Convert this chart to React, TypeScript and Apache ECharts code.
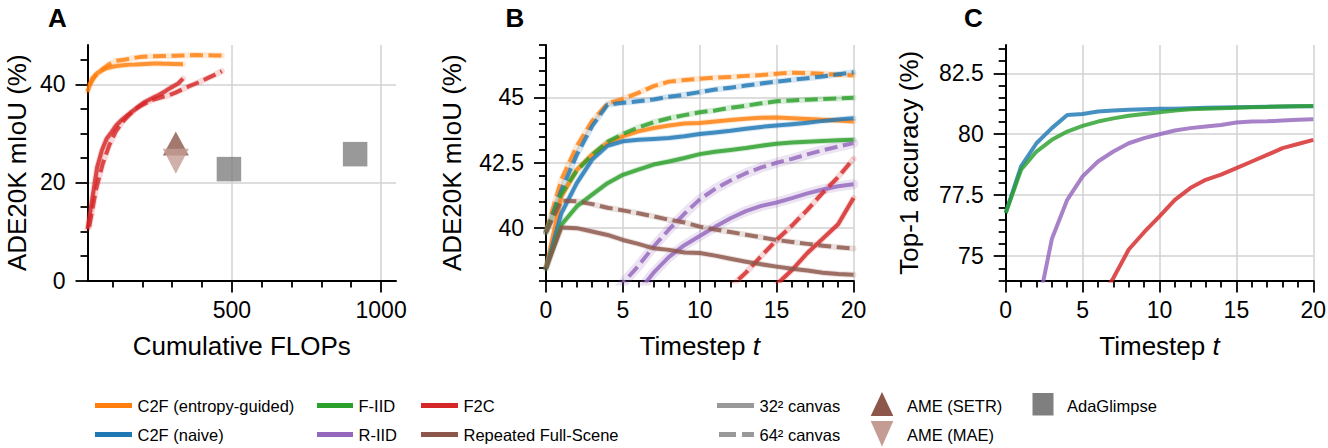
import React, { useEffect, useRef } from "react";
import * as echarts from "echarts";

const FONT = "'Liberation Sans', Arial, Helvetica, sans-serif";

// ---------- data ----------
const timesteps = [0, 1, 2, 3, 4, 5, 6, 7, 8, 9, 10, 11, 12, 13, 14, 15, 16, 17, 18, 19, 20];
// cumulative FLOPs per timestep (panel A)
const flops32 = [16, 32, 48, 64, 80, 96, 112, 128, 144, 160, 176, 192, 208, 224, 240, 256, 272, 288, 304, 320, 336];
const flops64 = [22, 44, 67, 89, 111, 133, 155, 178, 200, 222, 244, 266, 289, 311, 333, 355, 377, 400, 422, 444, 466];

// ADE20K mIoU, 32^2 canvas
const c2fEntropy32 = [38.47, 41.21, 42.23, 42.81, 43.26, 43.51, 43.7, 43.83, 43.92, 44.0, 44.02, 44.08, 44.13, 44.18, 44.22, 44.23, 44.2, 44.17, 44.14, 44.11, 44.08];
const c2fNaive32 = [38.47, 40.57, 41.72, 42.62, 43.15, 43.32, 43.38, 43.41, 43.45, 43.51, 43.6, 43.66, 43.72, 43.8, 43.87, 43.92, 43.97, 44.03, 44.1, 44.15, 44.2];
const fiid32 = [38.47, 40.13, 40.83, 41.28, 41.72, 42.04, 42.24, 42.43, 42.55, 42.68, 42.83, 42.92, 42.99, 43.06, 43.15, 43.23, 43.27, 43.3, 43.33, 43.36, 43.38];
const riid32 = [null, null, null, null, null, 36.6, 37.57, 38.3, 38.9, 39.35, 39.7, 40.05, 40.38, 40.65, 40.85, 40.98, 41.15, 41.33, 41.48, 41.6, 41.68];
const f2c32 = [10.5, 16.7, 23.0, 26.5, 28.9, 30.2, 31.6, 32.6, 33.4, 34.2, 34.9, 35.7, 36.4, 36.9, 37.4, 37.85, 38.4, 39.05, 39.6, 40.15, 41.15];
const repeated32 = [38.47, 40.03, 40.0, 39.87, 39.74, 39.55, 39.4, 39.23, 39.17, 39.07, 39.05, 38.95, 38.83, 38.72, 38.62, 38.53, 38.45, 38.38, 38.3, 38.25, 38.22];

// ADE20K mIoU, 64^2 canvas
const c2fEntropy64 = [39.85, 41.85, 43.13, 44.09, 44.76, 44.94, 45.17, 45.43, 45.6, 45.66, 45.71, 45.75, 45.78, 45.82, 45.85, 45.9, 45.94, 45.93, 45.9, 45.86, 45.84];
const c2fNaive64 = [39.85, 41.45, 42.8, 43.9, 44.72, 44.79, 44.85, 44.92, 45.02, 45.1, 45.2, 45.3, 45.37, 45.45, 45.53, 45.6, 45.67, 45.73, 45.8, 45.88, 45.96];
const fiid64 = [39.85, 41.3, 42.2, 42.8, 43.3, 43.6, 43.85, 44.05, 44.2, 44.32, 44.43, 44.5, 44.6, 44.68, 44.77, 44.85, 44.88, 44.91, 44.94, 44.96, 44.98];
const riid64 = [null, null, null, null, 37.0, 37.9, 38.55, 39.3, 39.95, 40.55, 41.1, 41.5, 41.82, 42.1, 42.32, 42.5, 42.65, 42.82, 42.98, 43.12, 43.25];
const f2c64 = [11.0, 18.4, 23.8, 27.6, 30.4, 32.3, 33.7, 35.0, 35.8, 36.5, 37.0, 37.4, 37.75, 38.3, 38.93, 39.55, 40.1, 40.7, 41.35, 41.95, 42.65];
const repeated64 = [39.85, 41.05, 41.03, 40.92, 40.78, 40.68, 40.57, 40.45, 40.32, 40.22, 40.06, 39.95, 39.85, 39.75, 39.65, 39.55, 39.47, 39.4, 39.33, 39.27, 39.22];

// Top-1 accuracy (panel C)
const c2fNaiveTop1 = [76.77, 78.68, 79.63, 80.25, 80.79, 80.83, 80.93, 80.97, 81.0, 81.02, 81.04, 81.05, 81.07, 81.09, 81.1, 81.11, 81.12, 81.13, 81.14, 81.15, 81.15];
const fiidTop1 = [76.77, 78.54, 79.29, 79.77, 80.11, 80.34, 80.52, 80.65, 80.76, 80.83, 80.9, 80.97, 81.02, 81.05, 81.07, 81.09, 81.11, 81.12, 81.14, 81.15, 81.16];
const riidTop1 = [null, null, 72.6, 75.7, 77.31, 78.27, 78.88, 79.29, 79.63, 79.84, 80.0, 80.15, 80.25, 80.32, 80.38, 80.48, 80.52, 80.53, 80.56, 80.59, 80.61];
const f2cTop1 = [null, null, null, null, null, null, 73.1, 74.1, 75.27, 75.98, 76.63, 77.31, 77.79, 78.13, 78.34, 78.61, 78.88, 79.15, 79.43, 79.6, 79.77];

// single-point baselines (panel A): [cumulative FLOPs, mIoU]
const ameSetr = [[312, 27.9]];
const ameMae = [[312, 24.3]];
const adaGlimpse = [[490, 22.7], [913, 25.75]];

// ticks
const aXMajor = [500, 1000];
const aXMinor = [100, 200, 300, 400, 600, 700, 800, 900];
const aYMajor = [0, 20, 40];
const aYMinor = [5, 10, 15, 25, 30, 35, 45];
const tMajor = [0, 5, 10, 15, 20];
const tMinor = [1, 2, 3, 4, 6, 7, 8, 9, 11, 12, 13, 14, 16, 17, 18, 19];
const bYMajor = [40, 42.5, 45];
const bYMinor = [38, 38.5, 39, 39.5, 40.5, 41, 41.5, 42, 43, 43.5, 44, 44.5, 45.5, 46, 46.5, 47];
const cYMajor = [75, 77.5, 80, 82.5];
const cYMinor = [74, 74.5, 75.5, 76, 76.5, 77, 78, 78.5, 79, 79.5, 80.5, 81, 81.5, 82, 83, 83.5];

// ---------- colours ----------
const ORANGE = "#ff7f0e";
const BLUE = "#1f77b4";
const GREEN = "#2ca02c";
const RED = "#d62728";
const PURPLE = "#9467bd";
const BROWN = "#8c564b";
const LBROWN = "#c49c94";
const GRAY = "#7f7f7f";

const pairs = (xs: number[], ys: (number | null)[]) => xs.map((x, i) => [x, ys[i]]);

function lineSeries(name: string, xs: number[], ys: (number | null)[], color: string, dashed: boolean, ai: number, band: number) {
  const data = pairs(xs, ys);
  const out: any[] = [];
  if (band > 0) {
    out.push({
      type: "line", name: name + " CI", xAxisIndex: ai, yAxisIndex: ai, data,
      symbol: "none", silent: true, z: 1,
      lineStyle: { color, width: band, opacity: 0.18, cap: "round", join: "round" },
    });
  }
  out.push({
    type: "line", name, xAxisIndex: ai, yAxisIndex: ai, data,
    symbol: "none", z: 2,
    lineStyle: { color, width: 4, opacity: 0.82, type: dashed ? [13, 5.5] : "solid", join: "round" },
  });
  return out;
}

function axisPair(dim: "x" | "y", grid: number, min: number, max: number, majors: number[], minors: number[], name: string, nameGap: number, margin: number) {
  const common: any = { type: "value", gridIndex: grid, min, max, position: dim === "x" ? "bottom" : "left" };
  const tickStyle = { color: "#000", width: 1.8 };
  const major = {
    ...common,
    axisLine: { show: true, onZero: false, lineStyle: { color: "#000", width: 2 } },
    axisTick: { show: true, customValues: majors, length: 12, lineStyle: tickStyle },
    axisLabel: {
      show: true, customValues: majors, color: "#000", fontSize: 23, fontFamily: FONT, margin,
      formatter: (v: number) => String(v),
    },
    splitLine: { show: true, lineStyle: { color: "#d2d2d2", width: 1.5 } },
    minorTick: { show: false },
    name,
    nameLocation: "middle",
    nameGap,
    nameTextStyle: {
      fontSize: 26, fontFamily: FONT, color: "#000",
      rich: { it: { fontSize: 26, fontFamily: FONT, color: "#000", fontStyle: "italic" } },
    },
  };
  const minor = {
    ...common,
    axisLine: { show: false, onZero: false },
    axisTick: { show: true, customValues: minors, length: 7, lineStyle: tickStyle },
    axisLabel: { show: false },
    splitLine: { show: false },
  };
  return [major, minor];
}

function legendGraphics() {
  const g: any[] = [];
  const row1 = 405.5;
  const row2 = 434.5;
  const txt = (x: number, y: number, text: string) => ({
    type: "text", x, y, silent: true,
    style: { text, fill: "#000", fontSize: 16.5, fontFamily: FONT, align: "left", verticalAlign: "middle" },
  });
  const ln = (x1: number, x2: number, y: number, color: string, dash?: number[]) => ({
    type: "line", silent: true,
    shape: { x1, y1: y, x2, y2: y },
    style: { stroke: color, lineWidth: 5, lineDash: dash || null },
  });
  const items: [number, number, number, string, string, number[] | undefined][] = [
    [95, 132, row1, ORANGE, "C2F (entropy-guided)", undefined],
    [95, 132, row2, BLUE, "C2F (naive)", undefined],
    [317, 353, row1, GREEN, "F-IID", undefined],
    [317, 353, row2, PURPLE, "R-IID", undefined],
    [421, 458, row1, RED, "F2C", undefined],
    [421, 458, row2, BROWN, "Repeated Full-Scene", undefined],
    [717, 754, row1, "#999999", "32² canvas", undefined],
    [719, 754, row2, "#999999", "64² canvas", [17, 6]],
  ];
  for (const [x1, x2, y, c, t, d] of items) {
    g.push(ln(x1, x2, y, c, d));
    g.push(txt(x2 + 5.5, y, t));
  }
  g.push({ type: "polygon", silent: true, shape: { points: [[870.7, 416], [893.3, 416], [882, 392]] }, style: { fill: BROWN } });
  g.push({ type: "polygon", silent: true, shape: { points: [[870.7, 421], [893.3, 421], [882, 446.5]] }, style: { fill: LBROWN } });
  g.push(txt(907, row1, "AME (SETR)"));
  g.push(txt(907, row2, "AME (MAE)"));
  g.push({ type: "rect", silent: true, shape: { x: 1032.5, y: 393, width: 21, height: 22.5 }, style: { fill: GRAY } });
  g.push(txt(1067, row1, "AdaGlimpse"));
  // panel letters
  const letter = (x: number, t: string) => ({
    type: "text", x, y: 17.5, silent: true,
    style: { text: t, fill: "#000", fontSize: 26, fontWeight: "bold", fontFamily: FONT, align: "left", verticalAlign: "middle" },
  });
  g.push(letter(48, "A"), letter(505.5, "B"), letter(964, "C"));
  return g;
}

export default function App() {
  const ref = useRef<HTMLDivElement>(null);
  useEffect(() => {
    document.body.style.margin = "0";
    if (!ref.current) return;
    const chart = echarts.init(ref.current, undefined, { renderer: "svg" });

    const [axA, axAm] = axisPair("x", 0, 16, 1050, aXMajor, aXMinor, "Cumulative FLOPs", 52, 18);
    const [ayA, ayAm] = axisPair("y", 0, 0, 48, aYMajor, aYMinor, "ADE20K mIoU (%)", 58, 22);
    const [axB, axBm] = axisPair("x", 1, 0, 20, tMajor, tMinor, "Timestep {it|t}", 52, 18);
    const [ayB, ayBm] = axisPair("y", 1, 38, 47, bYMajor, bYMinor, "ADE20K mIoU (%)", 81, 22);
    const [axC, axCm] = axisPair("x", 2, 0, 20, tMajor, tMinor, "Timestep {it|t}", 52, 18);
    const [ayC, ayCm] = axisPair("y", 2, 74, 83.66, cYMajor, cYMinor, "Top-1 accuracy (%)", 84, 22);

    // axis index: A = 0, B = 2, C = 4 (odd = minor-tick axes)
    const series: any[] = [
      ...lineSeries("C2F (entropy-guided) 32", flops32, c2fEntropy32, ORANGE, false, 0, 6),
      ...lineSeries("C2F (entropy-guided) 64", flops64, c2fEntropy64, ORANGE, true, 0, 6),
      ...lineSeries("F2C 32", flops32, f2c32, RED, false, 0, 6),
      ...lineSeries("F2C 64", flops64, f2c64, RED, true, 0, 6),
      {
        type: "scatter", name: "AME (SETR)", xAxisIndex: 0, yAxisIndex: 0, data: ameSetr,
        symbol: "triangle", symbolSize: [26, 24], itemStyle: { color: BROWN }, z: 3,
      },
      {
        type: "scatter", name: "AME (MAE)", xAxisIndex: 0, yAxisIndex: 0, data: ameMae,
        symbol: "triangle", symbolRotate: 180, symbolSize: [26, 25], itemStyle: { color: LBROWN }, z: 4,
      },
      {
        type: "scatter", name: "AdaGlimpse", xAxisIndex: 0, yAxisIndex: 0, data: adaGlimpse,
        symbol: "rect", symbolSize: 24.5, itemStyle: { color: GRAY }, z: 3,
      },

      ...lineSeries("C2F (entropy-guided) 32", timesteps, c2fEntropy32, ORANGE, false, 2, 6),
      ...lineSeries("C2F (entropy-guided) 64", timesteps, c2fEntropy64, ORANGE, true, 2, 6),
      ...lineSeries("C2F (naive) 32", timesteps, c2fNaive32, BLUE, false, 2, 6),
      ...lineSeries("C2F (naive) 64", timesteps, c2fNaive64, BLUE, true, 2, 6),
      ...lineSeries("F-IID 32", timesteps, fiid32, GREEN, false, 2, 6),
      ...lineSeries("F-IID 64", timesteps, fiid64, GREEN, true, 2, 6),
      ...lineSeries("R-IID 32", timesteps, riid32, PURPLE, false, 2, 10),
      ...lineSeries("R-IID 64", timesteps, riid64, PURPLE, true, 2, 10),
      ...lineSeries("F2C 32", timesteps, f2c32, RED, false, 2, 6),
      ...lineSeries("F2C 64", timesteps, f2c64, RED, true, 2, 6),
      ...lineSeries("Repeated Full-Scene 32", timesteps, repeated32, BROWN, false, 2, 6),
      ...lineSeries("Repeated Full-Scene 64", timesteps, repeated64, BROWN, true, 2, 6),

      ...lineSeries("C2F (naive)", timesteps, c2fNaiveTop1, BLUE, false, 4, 0),
      ...lineSeries("F-IID", timesteps, fiidTop1, GREEN, false, 4, 0),
      ...lineSeries("R-IID", timesteps, riidTop1, PURPLE, false, 4, 0),
      ...lineSeries("F2C", timesteps, f2cTop1, RED, false, 4, 0),
    ];

    chart.setOption({
      animation: false,
      backgroundColor: "#ffffff",
      textStyle: { fontFamily: FONT },
      grid: [
        { left: 87.5, top: 45, width: 308.5, height: 235.5, outerBoundsMode: "none" },
        { left: 546, top: 45, width: 307.5, height: 235.5, outerBoundsMode: "none" },
        { left: 1005.7, top: 45, width: 307.6, height: 235.5, outerBoundsMode: "none" },
      ],
      xAxis: [axA, axAm, axB, axBm, axC, axCm],
      yAxis: [ayA, ayAm, ayB, ayBm, ayC, ayCm],
      series,
      graphic: legendGraphics(),
    });
    return () => chart.dispose();
  }, []);
  return <div ref={ref} style={{ width: 1328, height: 448 }} />;
}
